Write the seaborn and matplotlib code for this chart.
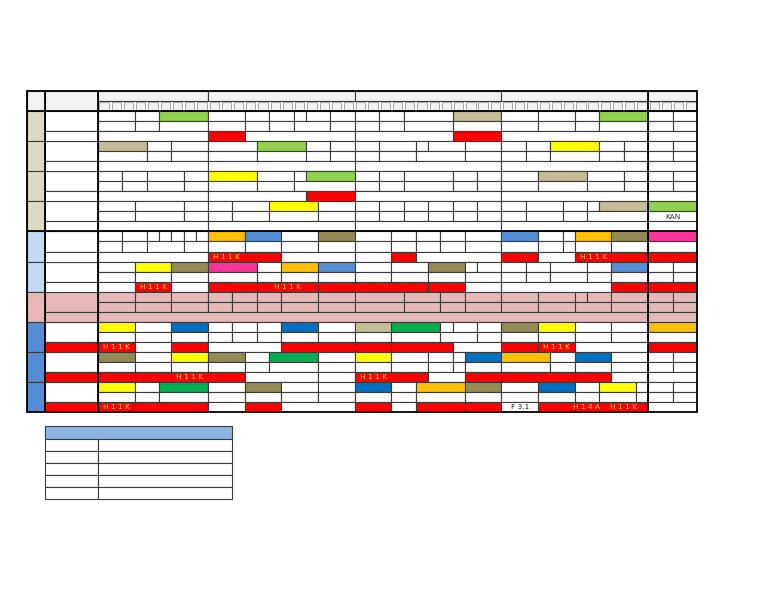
import matplotlib
matplotlib.use("Agg")
import matplotlib.pyplot as plt
from matplotlib.patches import Rectangle
import seaborn as sns

sns.set_theme(style="white")
plt.rcParams['font.family'] = ['DejaVu Sans']

PALETTE = {
    'w': '#ffffff', 'G': '#92d050', 'T': '#c4bd97', 'R': '#ff0000', 'Y': '#ffff00',
    'O': '#ffc000', 'B': '#558ed5', 'D': '#0070c0', 'L': '#948a54', 'P': '#ff3399',
    'N': '#00b050', 'K': '#e6b8b7',
}

# day groups of the time header
GROUPS = [0, 9, 21, 33, 45, 49]
N_DAYS = 49

# one string per row: "start-end[:colour]" segments, in days
ROWS = [
    # beige section
    "0-3,3-5,5-9:G,9-12,12-14,14-16,16-17,17-19,19-21,21-23,23-25,25-29,29-33:T,33-36,36-39,39-41,41-45:G,45-47,47-49",
    "0-3,3-5,5-9,9-12,12-14,14-16,16-19,19-21,21-23,23-25,25-29,29-33,33-36,36-39,39-41,41-45,45-47,47-49",
    "0-9,9-12:R,12-21,21-29,29-33:R,33-45,45-49",
    "0-4:T,4-6,6-9,9-13,13-17:G,17-19,19-21,21-23,23-26,26-27,27-30,30-33,33-35,35-37,37-41:Y,41-43,43-45,45-47,47-49",
    "0-4,4-6,6-9,9-13,13-17,17-19,19-21,21-23,23-26,26-30,30-33,33-35,35-37,37-41,41-43,43-45,45-47,47-49",
    "0-9,9-21,21-33,33-45,45-49",
    "0-2,2-4,4-7,7-9,9-13:Y,13-16,16-17,17-21:G,21-23,23-25,25-29,29-31,31-33,33-36,36-40:T,40-43,43-45,45-47,47-49",
    "0-2,2-4,4-7,7-9,9-13,13-16,16-21,21-23,23-25,25-29,29-31,31-33,33-36,36-40,40-43,43-45,45-47,47-49",
    "0-9,9-17,17-21:R,21-33,33-45,45-49",
    "0-3,3-7,7-9,9-11,11-14,14-18:Y,18-21,21-23,23-25,25-27,27-29,29-31,31-33,33-35,35-38,38-40,40-41,41-45:T,45-49:G",
    "0-3,3-7,7-9,9-11,11-14,14-18,18-21,21-23,23-25,25-27,27-29,29-31,31-33,33-35,35-38,38-40,40-45,45-49",
    "0-9,9-21,21-33,33-45,45-49",
    # light blue section
    "0-2,2-4,4-5,5-6,6-7,7-8,8-9,9-12:O,12-15:B,15-18,18-21:L,21-24,24-26,26-28,28-30,30-33,33-36:B,36-38,38-39,39-42:O,42-45:L,45-49:P",
    "0-2,2-4,4-7,7-9,9-12,12-15,15-18,18-21,21-24,24-26,26-28,28-30,30-33,33-36,36-38,38-39,39-42,42-45,45-49",
    "0-9,9-12:R,12-15:R,15-21,21-24,24-26:R,26-33,33-36:R,36-39,39-42:R,42-45:R,45-49:R",
    "0-3,3-6:Y,6-9:L,9-13:P,13-15,15-18:O,18-21:B,21-24,24-27,27-30:L,30-31,31-33,33-35,35-37,37-40,40-42,42-45:B,45-47,47-49",
    "0-3,3-6,6-9,9-13,13-15,15-18,18-21,21-24,24-27,27-30,30-33,33-35,35-37,37-40,40-42,42-45,45-47,47-49",
    "0-3,3-6:R,6-9,9-13:R,13-18:R,18-21:R,21-27:R,27-30:R,30-33,33-42,42-45:R,45-49:R",
    # pink section
    "0-3:K,3-6:K,6-9:K,9-11:K,11-13:K,13-15:K,15-18:K,18-21:K,21-25:K,25-28:K,28-30:K,30-33:K,33-36:K,36-39:K,39-40:K,40-42:K,42-45:K,45-47:K,47-49:K",
    "0-3:K,3-6:K,6-9:K,9-11:K,11-13:K,13-15:K,15-18:K,18-21:K,21-25:K,25-28:K,28-30:K,30-33:K,33-36:K,36-39:K,39-42:K,42-45:K,45-47:K,47-49:K",
    "0-49:K",
    # blue section
    "0-3:Y,3-6,6-9:D,9-11,11-13,13-15,15-18:D,18-21,21-24:T,24-28:N,28-29,29-31,31-33,33-36:L,36-39:Y,39-42,42-45,45-49:O",
    "0-3,3-6,6-9,9-11,11-13,13-15,15-18,18-21,21-24,24-28,28-31,31-33,33-36,36-39,39-42,42-45,45-49",
    "0-3:R,3-6,6-9:R,9-15,15-21:R,21-24:R,24-29:R,29-33,33-36:R,36-39:R,39-45,45-49:R",
    "0-3:L,3-6,6-9:Y,9-12:L,12-14,14-18:N,18-21,21-24:Y,24-27,27-29,29-30,30-33:D,33-37:O,37-39,39-42:D,42-45,45-47,47-49",
    "0-3,3-6,6-9,9-12,12-14,14-18,18-21,21-24,24-27,27-29,29-30,30-33,33-37,37-39,39-42,42-45,45-47,47-49",
    "0-3:R,3-6:R,6-12:R,12-18,18-21,21-27:R,27-30,30-33:R,33-39:R,39-42:R,42-45,45-49",
    "0-3:Y,3-5,5-9:N,9-12,12-15:L,15-18,18-21,21-24:D,24-26,26-30:O,30-33:L,33-36,36-39:D,39-41,41-44:Y,44-45,45-47,47-49",
    "0-3,3-5,5-9,9-12,12-15,15-18,18-21,21-24,24-26,26-30,30-33,33-36,36-39,39-41,41-44,44-45,45-47,47-49",
    "0-3:R,3-9:R,9-12,12-15:R,15-21,21-24:R,24-26,26-30:R,30-33:R,33-36,36-39:R,39-41:R,41-45:R,45-49",
]

# left columns: (first row, rows spanned, col0 colour, col1 colour)
LEFT_BLOCKS = [
    (0, 3, '#ddd9c4', '#ffffff'), (3, 3, '#ddd9c4', '#ffffff'),
    (6, 3, '#ddd9c4', '#ffffff'), (9, 3, '#ddd9c4', '#ffffff'),
    (12, 3, '#c5d9f1', '#ffffff'), (15, 3, '#c5d9f1', '#ffffff'),
    (18, 3, '#e6b8b7', '#e6b8b7'),
    (21, 3, '#538dd5', '#ffffff'), (24, 3, '#538dd5', '#ffffff'), (27, 3, '#538dd5', '#ffffff'),
]
# rows whose col1 has its own separate cell (row, colour)
LEFT_SUB = [(2, '#ffffff'), (5, '#ffffff'), (8, '#ffffff'), (11, '#ffffff'),
            (14, '#ffffff'), (17, '#ffffff'), (20, '#e6b8b7'),
            (23, '#ff0000'), (26, '#ff0000'), (29, '#ff0000')]

# cell labels: (row, start, end, text, colour)
LABELS = [
    (10, 45, 49, 'KAN', '#333333'),
    (14, 9, 12, 'H 1 1 K', '#ffd21f'), (14, 39, 42, 'H 1 1 K', '#ffd21f'),
    (17, 3, 6, 'H 1 1 K', '#ffd21f'), (17, 13, 18, 'H 1 1 K', '#ffd21f'),
    (23, 0, 3, 'H 1 1 K', '#ffd21f'), (23, 36, 39, 'H 1 1 K', '#ffd21f'),
    (26, 6, 9, 'H 1 1 K', '#ffd21f'), (26, 21, 24, 'H 1 1 K', '#ffd21f'),
    (29, 0, 3, 'H 1 1 K', '#ffd21f'), (29, 33, 36, 'F 3.1', '#222222'),
    (29, 39, 41, 'H 1 4 A', '#ffd21f'), (29, 41, 45, 'H 1 1 K', '#ffd21f'),
]

COL0 = (-5.81, -4.34)
COL1 = (-4.34, 0.0)
EDGE = '#3a3a3a'

fig = plt.figure(figsize=(7.68, 5.94), dpi=100)
ax = fig.add_axes([27 / 768, 1 - 412 / 594, 670 / 768, 321 / 594])
ax.set_xlim(COL0[0], N_DAYS)
ax.set_ylim(30, -2)
ax.axis('off')


def cell(x0, x1, y0, y1, color, lw=0.8, ec=EDGE, clip=True):
    ax.add_patch(Rectangle((x0, y0), x1 - x0, y1 - y0, facecolor=color,
                           edgecolor=ec, linewidth=lw, clip_on=clip))


# header
cell(COL0[0], COL0[1], -2, 0, '#f2f2f2')
cell(COL1[0], COL1[1], -2, 0, '#f2f2f2')
for a, b in zip(GROUPS[:-1], GROUPS[1:]):
    cell(a, b, -2, -1, '#f2f2f2')
for d in range(N_DAYS):
    cell(d + 0.12, d + 0.88, -0.9, -0.1, '#f2f2f2', lw=0.6, ec='#999999')

# body rows
for r, spec in enumerate(ROWS):
    for seg in spec.split(','):
        rng, _, code = seg.partition(':')
        a, b = map(float, rng.split('-'))
        cell(a, b, r, r + 1, PALETTE[code or 'w'])

# left columns
for r0, n, c0, c1 in LEFT_BLOCKS:
    cell(COL0[0], COL0[1], r0, r0 + n, c0)
    cell(COL1[0], COL1[1], r0, r0 + n - 1, c1)
for r, c in LEFT_SUB:
    cell(COL1[0], COL1[1], r, r + 1, c)

for r, a, b, txt, col in LABELS:
    ax.text((a + b) / 2, r + 0.55, txt, ha='center', va='center', fontsize=5.3,
            color=col)

# thick separators
for x in (COL0[0], COL0[1], 0, 45, N_DAYS):
    ax.plot([x, x], [-2, 30], color='black', lw=1.3, clip_on=False)
for y in (-2, 0, 12, 30):
    ax.plot([COL0[0], N_DAYS], [y, y], color='black', lw=1.3, clip_on=False)

# legend table below the chart
tx0, tx1, tmid = -4.34, 10.97, 0.0
cell(tx0, tx1, 31.4, 32.7, '#8db4e2', clip=False)
for i in range(5):
    y0 = 32.7 + i * 1.2
    cell(tx0, tmid, y0, y0 + 1.2, '#ffffff', clip=False)
    cell(tmid, tx1, y0, y0 + 1.2, '#ffffff', clip=False)

fig.savefig('out.png', dpi=100)
